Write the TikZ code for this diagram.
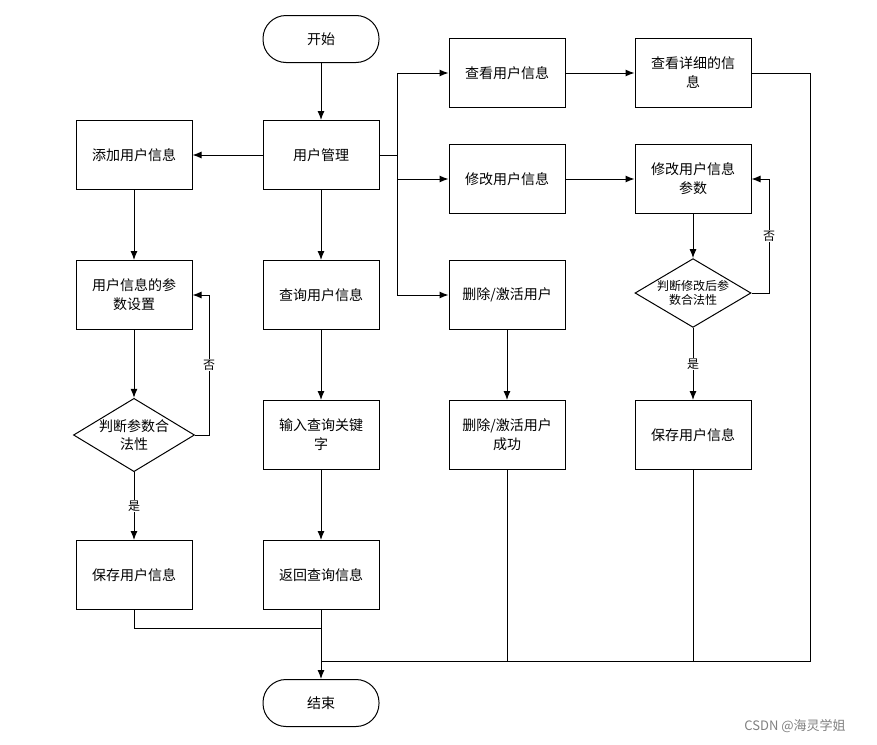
\documentclass[tikz,border=0pt]{standalone}
\usepackage{fontspec}
\setmainfont{Noto Sans CJK SC}
\usetikzlibrary{shapes.geometric,arrows.meta}
\begin{document}
\begin{tikzpicture}[x=1pt,y=-1pt,line width=1pt,
  box/.style={draw,minimum width=116pt,minimum height=69pt,align=center,font=\fontsize{14}{19}\selectfont,text width=104pt},
  term/.style={draw,rounded corners=23pt,minimum width=116pt,minimum height=47pt,font=\fontsize{14}{16}\selectfont},
  dia/.style={draw,diamond,aspect=1.65,minimum width=116pt,minimum height=70pt,inner sep=0pt,align=center,font=\fontsize{14}{18}\selectfont},
  dia2/.style={dia,minimum height=63pt,font=\fontsize{12}{14}\selectfont},
  arr/.style={-{Latex[length=9pt,width=7pt]}},
  ln/.style={},
  lab/.style={font=\fontsize{12}{13}\selectfont,fill=white,inner sep=1pt}]
\useasboundingbox (0,0) rectangle (877,744);
\node[term] (start) at (321,39) {开始};
\node[box] (um) at (321,155) {用户管理};
\node[box] (add) at (134,155) {添加用户信息};
\node[box] (aset) at (134,295) {用户信息的参\\数设置};
\node[dia] (ad) at (134,435) {判断参数合\\法性};
\node[box] (asave) at (134,575) {保存用户信息};
\node[box] (q) at (321,295) {查询用户信息};
\node[box] (qk) at (321,435) {输入查询关键\\字};
\node[box] (qr) at (321,575) {返回查询信息};
\node[box] (v) at (507,73) {查看用户信息};
\node[box] (m) at (507,179) {修改用户信息};
\node[box] (d) at (507,295) {删除/激活用户};
\node[box] (ds) at (507,435) {删除/激活用户\\成功};
\node[box] (vd) at (693,73) {查看详细的信\\息};
\node[box] (mp) at (693,179) {修改用户信息\\参数};
\node[dia2] (md) at (693,293) {判断修改后参\\数合法性};
\node[box] (msave) at (693,435) {保存用户信息};
\node[term] (end) at (321,703) {结束};
\coordinate (br) at (397,155);
\coordinate (j) at (321,661);
\coordinate (j2) at (321,628);

\draw[arr] (start) -- (um);
\draw[arr] (um) -- (add);
\draw[arr] (add) -- (aset);
\draw[arr] (aset) -- (ad);
\draw[arr] (ad) -- node[lab]{是} (asave);
\draw[arr] (ad.east) -- (209,435) -- node[lab,pos=0.5]{否} (209,295) -- (aset.east);
\draw[arr] (um) -- (q);
\draw[arr] (q) -- (qk);
\draw[arr] (qk) -- (qr);
\draw[ln] (um.east) -- (br);
\draw[arr] (br) |- (v.west);
\draw[arr] (br) |- (m.west);
\draw[arr] (br) |- (d.west);
\draw[arr] (v) -- (vd);
\draw[arr] (m) -- (mp);
\draw[arr] (d) -- (ds);
\draw[arr] (mp) -- (md);
\draw[arr] (md) -- node[lab]{是} (msave);
\draw[arr] (md.east) -- (769,293) -- node[lab,pos=0.5]{否} (769,179) -- (mp.east);
\draw[arr] (qr) -- (end);
\draw[ln] (asave.south) |- (j2);
\draw[ln] (ds.south) |- (j);
\draw[ln] (msave.south) |- (j);
\draw[ln] (vd.east) -- (810,73) |- (j);
\node[font=\fontsize{13}{15}\selectfont,text=gray] (wm) at (795,726) {CSDN @海灵学姐};
\end{tikzpicture}
\end{document}
